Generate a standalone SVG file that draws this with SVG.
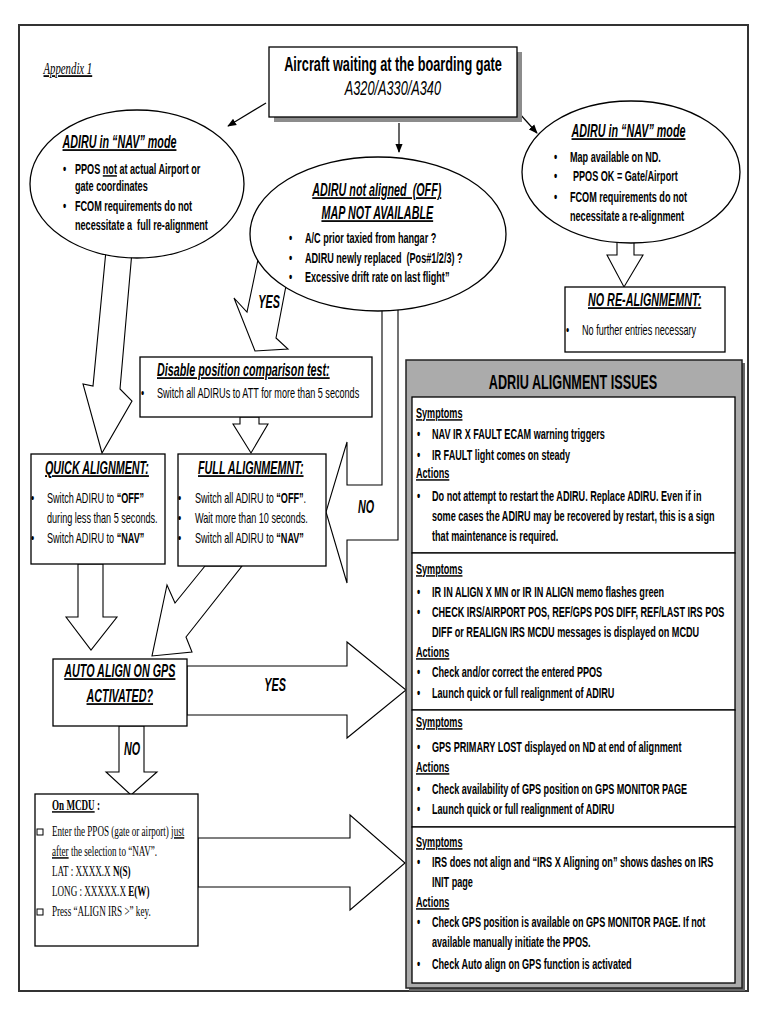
<svg xmlns="http://www.w3.org/2000/svg" width="768" height="1024" viewBox="0 0 768 1024">
<style>
text{font-family:"Liberation Sans",Arial,sans-serif;fill:#000;transform-box:fill-box;transform-origin:0 0;transform:scaleX(0.615)}
.c{text-anchor:middle;transform-origin:50% 0}
.b{font-weight:bold;font-size:14.8px}
.r{font-size:14.8px}
.t{font-weight:bold;font-style:italic;font-size:17.5px;text-decoration:underline}
.h{font-weight:bold;font-size:14.8px;text-decoration:underline}
.lab{font-weight:bold;font-style:italic;font-size:17.5px}
.sf{font-family:"Liberation Serif","Times New Roman",serif;font-size:14.8px}
.box{fill:#fff;stroke:#000;stroke-width:1.3}
.blk{fill:#fff;stroke:#000;stroke-width:1.1;stroke-linejoin:miter}
.thin{stroke:#000;stroke-width:1.2;fill:none}
</style>
<defs>
<marker id="ah" viewBox="0 0 10 10" refX="9" refY="5" markerWidth="9" markerHeight="9" markerUnits="userSpaceOnUse" orient="auto"><path d="M0,1 L10,5 L0,9 z" fill="#000"/></marker>
</defs>
<rect width="768" height="1024" fill="#fff"/>
<rect x="19" y="25" width="729" height="966" fill="none" stroke="#333" stroke-width="2"/>
<text x="44" y="74" style="font-family:'Liberation Serif','Times New Roman',serif;font-style:italic;font-size:17.5px;text-decoration:underline">Appendix 1</text>

<g id="connectors">
<line class="thin" x1="266" y1="103" x2="228" y2="126" marker-end="url(#ah)"/>
<line class="thin" x1="399" y1="123" x2="399" y2="152" marker-end="url(#ah)"/>
<line class="thin" x1="519" y1="113" x2="537" y2="133" marker-end="url(#ah)"/>
<polygon class="blk" points="107,240 93,386 83,384 102,453 132,401 120,389 133,240"/>
<polygon class="blk" points="260,250 247,312 234,298 255,351 288,349 276,338 289,270"/>
<polygon class="blk" points="382,290 382,485 347,485 347,442 326,512 347,583 347,540 398,540 398,290"/>
<polygon class="blk" points="617,235 617,255 607,255 624,287 643,255 634,255 634,235"/>
<polygon class="blk" points="240,417 240,424 233,424 251,453 268,424 259,424 259,417"/>
<polygon class="blk" points="78,564 78,617 66,617 91,650 117,617 103,617 103,564"/>
<polygon class="blk" points="205,566 175,603 167,585 152,656 192,652 186,637 242,566"/>
<polygon class="blk" points="187,666 347,666 347,642 406,690 347,738 347,715 187,715"/>
<polygon class="blk" points="119,726 119,772 106,772 131,795 157,772 144,772 144,726"/>
<polygon class="blk" points="198,838 350,838 350,815 405,863 350,910 350,887 198,887"/>
<text class="lab c" x="269" y="308">YES</text>
<text class="lab c" x="366" y="513">NO</text>
<text class="lab c" x="275" y="691">YES</text>
<text class="lab c" x="132" y="755">NO</text>
</g>

<g id="start">
<rect x="274" y="52" width="248" height="70" fill="#8c8c8c"/>
<rect class="box" x="269" y="47" width="248" height="70"/>
<text class="c" x="393" y="71" style="font-weight:bold;font-size:20.7px">Aircraft waiting at the boarding gate</text>
<text class="c" x="393" y="95" style="font-style:italic;font-size:20.7px">A320/A330/A340</text>
</g>

<g id="nav-left">
<ellipse class="box" cx="137" cy="184" rx="107" ry="74"/>
<text class="t" x="63" y="148">ADIRU in “NAV” mode</text>
<text class="b" x="63" y="174">•</text>
<text class="b" x="75" y="174">PPOS <tspan text-decoration="underline">not</tspan> at actual Airport or</text>
<text class="b" x="75" y="191">gate coordinates</text>
<text class="b" x="63" y="211">•</text>
<text class="b" x="75" y="211">FCOM requirements do not</text>
<text class="b" x="75" y="230">necessitate a&#160; full re-alignment</text>
</g>

<g id="not-aligned">
<ellipse class="box" cx="378" cy="234" rx="128" ry="77"/>
<text class="t c" x="377" y="196">ADIRU not aligned&#160; (OFF)</text>
<text class="t c" x="377" y="219">MAP NOT AVAILABLE</text>
<text class="b" x="289" y="243">•</text>
<text class="b" x="305" y="243">A/C prior taxied from hangar ?</text>
<text class="b" x="289" y="263">•</text>
<text class="b" x="305" y="263">ADIRU newly replaced&#160; (Pos#1/2/3) ?</text>
<text class="b" x="289" y="282">•</text>
<text class="b" x="305" y="282">Excessive drift rate on last flight”</text>
</g>

<g id="nav-right">
<ellipse class="box" cx="631" cy="172" rx="109" ry="71"/>
<text class="t" x="572" y="137">ADIRU in “NAV” mode</text>
<text class="b" x="554" y="162">•</text>
<text class="b" x="570" y="162">Map available on ND.</text>
<text class="b" x="554" y="181">•</text>
<text class="b" x="573" y="181">PPOS OK = Gate/Airport</text>
<text class="b" x="554" y="202">•</text>
<text class="b" x="570" y="202">FCOM requirements do not</text>
<text class="b" x="570" y="221">necessitate a re-alignment</text>
</g>

<g id="no-realign">
<rect class="box" x="565" y="287" width="160" height="65"/>
<text class="t" x="588" y="306">NO RE-ALIGNMEMNT:</text>
<text class="r" x="566" y="335">•</text>
<text class="r" x="582" y="335">No further entries necessary</text>
</g>

<g id="disable">
<rect class="box" x="140" y="357" width="232" height="60"/>
<text class="t" x="157" y="376">Disable position comparison test:</text>
<text class="r" x="141" y="398">•</text>
<text class="r" x="157" y="398">Switch all ADIRUs to ATT for more than 5 seconds</text>
</g>

<g id="quick">
<rect class="box" x="31" y="454" width="134" height="110"/>
<text class="t" x="45" y="474">QUICK ALIGNMENT:</text>
<text class="r" x="31" y="503">•</text>
<text class="r" x="47" y="503">Switch ADIRU to <tspan font-weight="bold">“OFF”</tspan></text>
<text class="r" x="47" y="523">during less than 5 seconds.</text>
<text class="r" x="31" y="543">•</text>
<text class="r" x="47" y="543">Switch ADIRU to <tspan font-weight="bold">“NAV”</tspan></text>
</g>

<g id="full">
<rect class="box" x="178" y="454" width="148" height="112"/>
<text class="t" x="198" y="474">FULL ALIGNMEMNT:</text>
<text class="r" x="178" y="503">•</text>
<text class="r" x="195" y="503">Switch all ADIRU to <tspan font-weight="bold">“OFF”</tspan>.</text>
<text class="r" x="178" y="523">•</text>
<text class="r" x="195" y="523">Wait more than 10 seconds.</text>
<text class="r" x="178" y="543">•</text>
<text class="r" x="195" y="543">Switch all ADIRU to <tspan font-weight="bold">“NAV”</tspan></text>
</g>

<g id="auto-align">
<rect class="box" x="53" y="659" width="134" height="67"/>
<text class="t c" x="120" y="677">AUTO ALIGN ON GPS</text>
<text class="t c" x="120" y="702">ACTIVATED?</text>
</g>

<g id="mcdu">
<rect class="box" x="35" y="794" width="163" height="152"/>
<text class="sf" x="52" y="810" style="font-weight:bold"><tspan text-decoration="underline">On MCDU</tspan> :</text>
<rect x="37" y="829" width="6" height="6" fill="#fff" stroke="#000" stroke-width="1"/>
<text class="sf" x="52" y="836">Enter the PPOS (gate or airport) <tspan text-decoration="underline">just</tspan></text>
<text class="sf" x="52" y="856"><tspan text-decoration="underline">after</tspan> the selection to “NAV”.</text>
<text class="sf" x="52" y="876">LAT : XXXX.X <tspan font-weight="bold">N(S)</tspan></text>
<text class="sf" x="52" y="896">LONG : XXXXX.X <tspan font-weight="bold">E(W)</tspan></text>
<rect x="37" y="909" width="6" height="6" fill="#fff" stroke="#000" stroke-width="1"/>
<text class="sf" x="52" y="916">Press “ALIGN IRS &gt;” key.</text>
</g>

<g id="issues">
<rect x="409" y="363" width="336" height="628" fill="#666"/>
<rect x="406" y="360" width="336" height="628" fill="#ababab" stroke="#222" stroke-width="1.5"/>
<text class="c" x="573" y="389" style="font-weight:bold;font-size:20px;transform:scaleX(0.634)">ADRIU ALIGNMENT ISSUES</text>
<rect class="box" x="412" y="397" width="323" height="156"/>
<rect class="box" x="412" y="553" width="323" height="157"/>
<rect class="box" x="412" y="710" width="323" height="117"/>
<rect class="box" x="412" y="827" width="323" height="156"/>

<text class="h" x="416" y="418">Symptoms</text>
<text class="b" x="417" y="439">•</text><text class="b" x="432" y="439">NAV IR X FAULT ECAM warning triggers</text>
<text class="b" x="417" y="460">•</text><text class="b" x="432" y="460">IR FAULT light comes on steady</text>
<text class="h" x="416" y="478">Actions</text>
<text class="b" x="417" y="501">•</text><text class="b" x="432" y="501">Do not attempt to restart the ADIRU. Replace ADIRU. Even if in</text>
<text class="b" x="432" y="521">some cases the ADIRU may be recovered by restart, this is a sign</text>
<text class="b" x="432" y="541">that maintenance is required.</text>

<text class="h" x="416" y="574">Symptoms</text>
<text class="b" x="417" y="597">•</text><text class="b" x="432" y="597">IR IN ALIGN X MN or IR IN ALIGN memo flashes green</text>
<text class="b" x="417" y="617">•</text><text class="b" x="432" y="617">CHECK IRS/AIRPORT POS, REF/GPS POS DIFF, REF/LAST IRS POS</text>
<text class="b" x="432" y="637">DIFF or REALIGN IRS MCDU messages is displayed on MCDU</text>
<text class="h" x="416" y="657">Actions</text>
<text class="b" x="417" y="677">•</text><text class="b" x="432" y="677">Check and/or correct the entered PPOS</text>
<text class="b" x="417" y="698">•</text><text class="b" x="432" y="698">Launch quick or full realignment of ADIRU</text>

<text class="h" x="416" y="727">Symptoms</text>
<text class="b" x="417" y="752">•</text><text class="b" x="432" y="752">GPS PRIMARY LOST displayed on ND at end of alignment</text>
<text class="h" x="416" y="772">Actions</text>
<text class="b" x="417" y="794">•</text><text class="b" x="432" y="794">Check availability of GPS position on GPS MONITOR PAGE</text>
<text class="b" x="417" y="814">•</text><text class="b" x="432" y="814">Launch quick or full realignment of ADIRU</text>

<text class="h" x="416" y="847">Symptoms</text>
<text class="b" x="417" y="867">•</text><text class="b" x="432" y="867">IRS does not align and “IRS X Aligning on” shows dashes on IRS</text>
<text class="b" x="432" y="887">INIT page</text>
<text class="h" x="416" y="907">Actions</text>
<text class="b" x="417" y="927">•</text><text class="b" x="432" y="927">Check GPS position is available on GPS MONITOR PAGE. If not</text>
<text class="b" x="432" y="947">available manually initiate the PPOS.</text>
<text class="b" x="417" y="969">•</text><text class="b" x="432" y="969">Check Auto align on GPS function is activated</text>
</g>
</svg>
